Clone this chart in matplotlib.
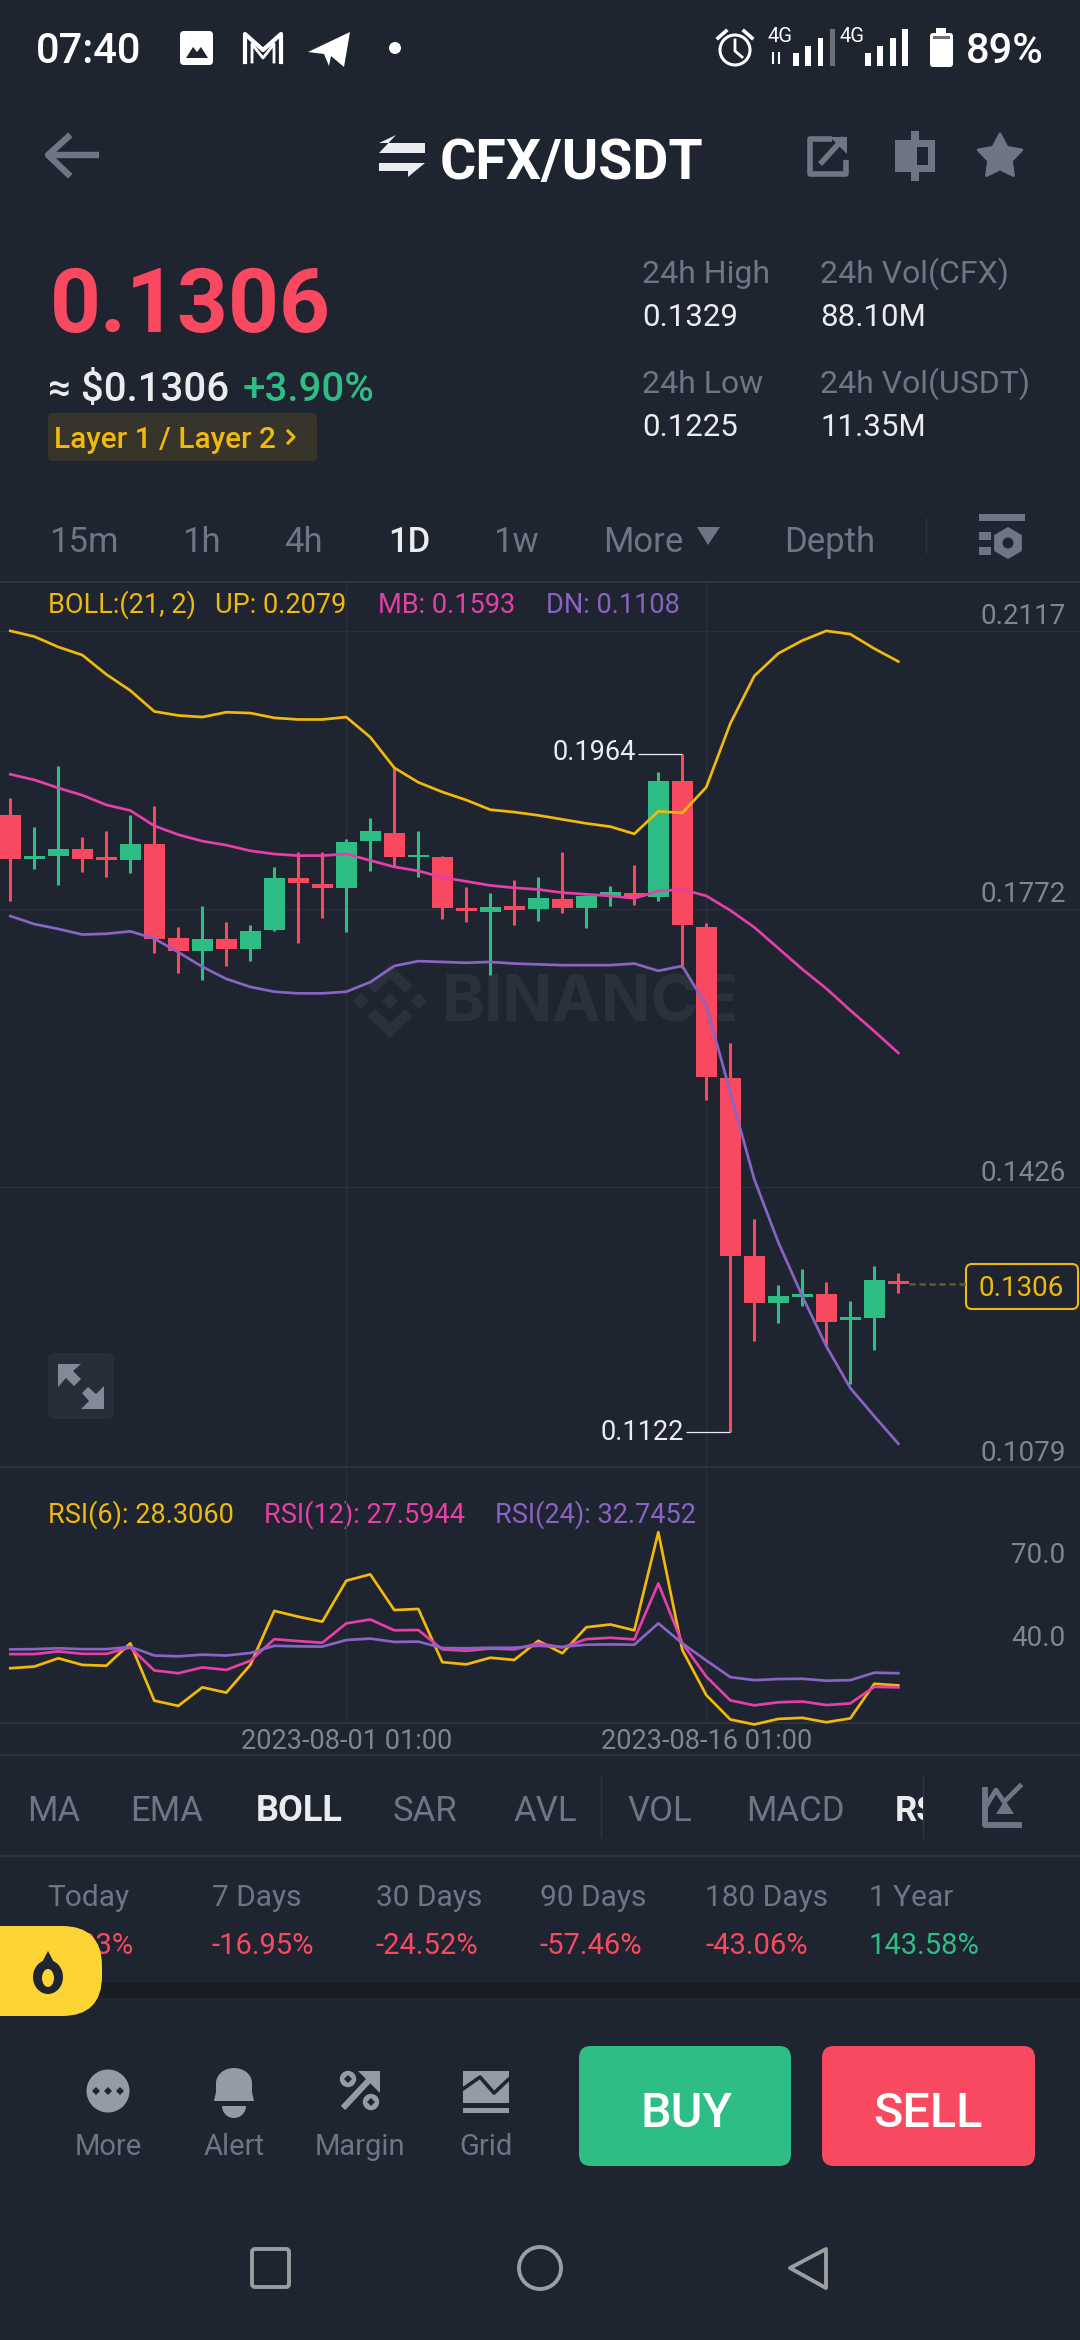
import numpy as np
import matplotlib
matplotlib.use('Agg')
import matplotlib.pyplot as plt
from matplotlib.patches import FancyBboxPatch, Rectangle, Circle, Polygon, Ellipse, Wedge

plt.rcParams['font.family'] = ['Roboto', 'DejaVu Sans']

# candles, oldest first
opens = [.1888, .1834, .1837, .1846, .1836, .1833, .1852, .1736, .1719, .1735, .1722, .1746, .1810,
         .1803, .1798, .1856, .1866, .1836, .1836, .1773, .1768, .1775, .1772, .1784, .1773, .1788,
         .1792, .1787, .1931, .1750, .1562, .1341, .1282, .1290, .1294, .1261, .1264, .1310]
highs = [.1910, .1874, .1949, .1861, .1868, .1888, .1899, .1750, .1775, .1755, .1752, .1824, .1843,
         .1842, .1859, .1885, .1947, .1869, .1838, .1799, .1792, .1808, .1811, .1843, .1789, .1800,
         .1826, .1942, .1964, .1754, .1605, .1387, .1305, .1325, .1309, .1285, .1328, .1320]
lows = [.1782, .1822, .1801, .1818, .1811, .1817, .1717, .1692, .1683, .1701, .1707, .1744, .1729,
        .1761, .1743, .1819, .1824, .1812, .1759, .1755, .1690, .1752, .1757, .1767, .1748, .1775,
        .1777, .1782, .1698, .1534, .1122, .1235, .1258, .1279, .1229, .1182, .1224, .1295]
closes = [.1834, .1838, .1846, .1834, .1832, .1853, .1735, .1719, .1735, .1722, .1745, .1810, .1804,
          .1798, .1855, .1868, .1836, .1839, .1773, .1769, .1774, .1771, .1785, .1773, .1788, .1793,
          .1787, .1931, .1752, .1563, .1341, .1282, .1291, .1294, .1259, .1265, .1311, .1306]

boll_up = [.2117, .2110, .2097, .2087, .2063, .2043, .2017, .2012, .2010, .2016, .2015, .2009, .2007,
           .2007, .2010, .1985, .1947, .1929, .1917, .1907, .1895, .1892, .1888, .1883, .1878, .1874,
           .1865, .1893, .1891, .1923, .2002, .2061, .2089, .2105, .2117, .2113, .2095, .2079]
boll_mb = [.1939, .1932, .1922, .1913, .1901, .1894, .1875, .1864, .1856, .1851, .1844, .1840, .1838,
           .1838, .1840, .1832, .1824, .1819, .1811, .1806, .1801, .1798, .1796, .1792, .1790, .1788,
           .1785, .1794, .1796, .1788, .1770, .1749, .1723, .1697, .1673, .1646, .1620, .1593]
boll_dn = [.1763, .1753, .1747, .1740, .1741, .1744, .1735, .1718, .1700, .1685, .1675, .1669, .1667,
           .1667, .1669, .1681, .1701, .1707, .1706, .1705, .1706, .1704, .1703, .1702, .1702, .1702,
           .1704, .1695, .1701, .1652, .1544, .1436, .1358, .1291, .1229, .1177, .1142, .1108]

rsi6 = [34.5, 35.1, 38.1, 35.7, 35.4, 43.5, 22.8, 20.9, 27.6, 25.7, 35.7, 55.2, 53.1, 51.3, 66.1, 68.4,
        55.5, 55.9, 36.7, 35.9, 38.3, 37.5, 44.4, 39.9, 49.3, 50.3, 48.2, 83.6, 41.1, 24.8, 16.0, 14.2,
        16.2, 16.6, 15.0, 16.4, 28.9, 28.3]
rsi12 = [39.6, 39.6, 40.6, 39.7, 39.7, 42.0, 33.7, 32.7, 34.8, 33.9, 37.2, 45.0, 44.3, 43.7, 50.7, 52.1,
         48.2, 48.3, 41.3, 40.8, 41.6, 41.3, 43.5, 42.0, 45.0, 45.5, 44.9, 65.1, 43.5, 31.5, 22.9, 21.1,
         22.2, 22.5, 21.2, 21.8, 27.8, 27.6]
rsi24 = [41.3, 41.4, 41.7, 41.4, 41.4, 42.2, 39.1, 38.8, 39.4, 39.1, 40.0, 42.6, 42.4, 42.3, 44.7, 45.2,
         44.0, 44.1, 41.8, 41.7, 41.9, 41.9, 42.6, 42.2, 43.0, 43.1, 43.0, 50.7, 43.5, 37.3, 31.3, 30.2,
         30.6, 30.7, 30.0, 30.2, 32.9, 32.7]

price_ticks = [0.2117, 0.1772, 0.1426, 0.1079]
rsi_ticks = [70.0, 40.0]
date_ticks = [14, 29]
date_labels = ['2023-08-01 01:00', '2023-08-16 01:00']
last_price = 0.1306

BG = '#1f2530'
RED = '#f84960'
GREEN = '#2ebd85'
YELLOW = '#f0b90b'
PINK = '#e63fa8'
PURPLE = '#8a63c4'
GRAY = '#6e7584'
AXGRAY = '#7f8691'
WHITE = '#eaecef'
GRID = '#2a303b'
LINE = '#2e3440'
ICON = '#949aa6'

W, H = 1080, 2340
fig = plt.figure(figsize=(W / 100, H / 100), dpi=100, facecolor=BG)

# whole screen in pixels, for the app chrome around the chart
ui = fig.add_axes([0, 0, 1, 1], zorder=0)
ui.set_xlim(0, W)
ui.set_ylim(H, 0)
ui.axis('off')


def label(x, y, s, size=21, color=GRAY, weight='normal', ha='left'):
    return ui.text(x, y, s, fontsize=size, color=color, fontweight=weight, ha=ha, va='baseline')


def hline(x0, x1, y, color=LINE, lw=1.4):
    ui.plot([x0, x1], [y, y], color=color, lw=lw, solid_capstyle='butt')


def vline(x, y0, y1, color=LINE, lw=1.0):
    ui.plot([x, x], [y0, y1], color=color, lw=lw, solid_capstyle='butt')


def box(x0, y0, x1, y1, color, r=8, **kw):
    ui.add_patch(FancyBboxPatch((x0 + r, y0 + r), x1 - x0 - 2 * r, y1 - y0 - 2 * r,
                                boxstyle=f'round,pad={r},rounding_size={r}', fc=color, ec='none', **kw))


def poly(points, color, **kw):
    ui.add_patch(Polygon(points, fc=color, ec='none', **kw))


def diamond(x, y, r, color):
    poly([(x, y - r), (x + r, y), (x, y + r), (x - r, y)], color)


# status bar
label(36, 63, '07:40', 30, 'white', 'medium')
box(180, 31, 213, 65, 'white', r=4)
poly([(186, 58), (193, 47), (197, 52), (201, 47), (208, 58)], BG)
ui.plot([245, 245, 263, 281, 281], [62, 34, 50, 34, 62], color='white', lw=3)
ui.plot([252, 252, 263, 274, 274], [62, 44, 58, 44, 62], color='white', lw=2)
poly([(308, 52), (350, 32), (344, 67), (331, 56), (329, 66), (324, 54)], 'white')
ui.add_patch(Circle((395, 48), 6, fc='white', ec='none'))
ui.add_patch(Circle((735, 50), 15, fc='none', ec='white', lw=2.2))
ui.plot([735, 735, 742], [40, 51, 57], color='white', lw=2)
ui.plot([718, 726], [38, 31], color='white', lw=2.6)
ui.plot([744, 752], [31, 38], color='white', lw=2.6)
label(768, 42, '4G', 14.5, 'white')
label(840, 42, '4G', 14.5, 'white')
ui.plot([773, 773], [53, 63], color='white', lw=1.5)
ui.plot([779, 779], [53, 63], color='white', lw=1.5)
signal_left = [(796, 53), (808, 46), (820.7, 38), (832.7, 29)]
for x, top in signal_left:
    ui.add_patch(Rectangle((x - 2.7, top), 5.4, 66 - top, fc='white' if x < 830 else '#6d7177', ec='none'))
signal_right = [(868, 53), (880, 46), (893, 38), (905, 29)]
for x, top in signal_right:
    ui.add_patch(Rectangle((x - 2.7, top), 5.4, 66 - top, fc='white', ec='none'))
box(930, 33, 953, 67, 'white', r=3)
ui.add_patch(Rectangle((936, 28), 10, 6, fc='white', ec='none'))
ui.add_patch(Rectangle((933, 36), 17, 3, fc='#6d7177', ec='none'))
label(966, 63, '89%', 30, 'white', 'medium')

# title row
ui.plot([99, 50], [155, 155], color=GRAY, lw=4.6, solid_capstyle='butt')
ui.plot([68, 48, 68], [137, 155, 174], color=GRAY, lw=4.6)
poly([(379, 143), (425, 143), (425, 153), (379, 153), (396, 135)], WHITE)
poly([(379, 163), (425, 163), (408, 177), (408, 171), (379, 171)], WHITE)
label(440, 179, 'CFX/USDT', 40, 'white', 'bold')
ui.plot([832, 810, 810, 846, 846], [139, 139, 174, 174, 160], color=GRAY, lw=4, solid_capstyle='butt')
ui.plot([822, 842], [162, 140], color=GRAY, lw=4)
poly([(830, 137), (847, 137), (847, 154)], GRAY)
ui.add_patch(Rectangle((895, 140), 40, 32, fc=GRAY, ec='none'))
ui.add_patch(Rectangle((911, 131), 8, 50, fc=GRAY, ec='none'))
ui.add_patch(Rectangle((917, 147), 11, 18, fc=BG, ec='none'))
star_a = np.deg2rad(np.arange(5) * 72 - 90)
star_b = star_a + np.deg2rad(36)
star = []
for a, b in zip(star_a, star_b):
    star += [(1000 + 23 * np.cos(a), 157 + 23 * np.sin(a)), (1000 + 12 * np.cos(b), 157 + 12 * np.sin(b))]
ui.add_patch(Polygon(star, fc=GRAY, ec=GRAY, lw=2, joinstyle='round'))

# price block
label(50, 332, '0.1306', 64, RED, 'bold')
label(48, 401, '≈ $0.1306', 29, WHITE, 'medium')
label(243, 401, '+3.90%', 29, GREEN, 'medium')
box(48, 413, 317, 461, '#37342c', r=5)
label(54, 448, 'Layer 1 / Layer 2', 21.5, YELLOW, 'medium')
ui.plot([288, 294, 288], [431, 437, 443], color=YELLOW, lw=2.2)

label(642, 283, '24h High', 23)
label(820, 283, '24h Vol(CFX)', 23)
label(642, 326, '0.1329', 22.5, WHITE)
label(820, 326, '88.10M', 22.5, WHITE)
label(642, 393, '24h Low', 23)
label(820, 393, '24h Vol(USDT)', 23)
label(642, 436, '0.1225', 22.5, WHITE)
label(820, 436, '11.35M', 22.5, WHITE)

# interval tabs
intervals = [(49, '15m'), (182, '1h'), (284, '4h'), (493, '1w'), (603, 'More'), (784, 'Depth')]
for x, s in intervals:
    label(x, 552, s, 25)
label(388, 552, '1D', 25, WHITE, 'medium')
poly([(697, 527), (720, 527), (708, 545)], GRAY)
vline(926, 518, 553)
ui.add_patch(Rectangle((979, 514), 46, 7, fc=GRAY, ec='none'))
ui.add_patch(Rectangle((979, 532), 12, 8, fc=GRAY, ec='none'))
ui.add_patch(Rectangle((979, 547), 12, 8, fc=GRAY, ec='none'))
hex_a = np.deg2rad(np.arange(6) * 60 + 30)
poly([(1008 + 16 * np.cos(a), 543 + 16 * np.sin(a)) for a in hex_a], GRAY)
ui.add_patch(Circle((1008, 543), 5.5, fc=BG, ec='none'))
hline(0, W, 582)

# watermark sits under the candles
MARK = '#2b313b'
diamond(390, 1001, 8, MARK)
diamond(361, 1001, 8, MARK)
diamond(419, 1001, 8, MARK)
poly([(390, 964), (413, 986), (405, 993), (390, 979), (375, 993), (367, 986)], MARK)
poly([(390, 1038), (413, 1016), (405, 1009), (390, 1023), (375, 1009), (367, 1016)], MARK)
ui.text(442, 1022, 'BINANCE', fontsize=47, color=MARK, fontweight='bold', va='baseline',
        family=['Inter', 'DejaVu Sans'])

# legends
for x, s, c in [(48, 'BOLL:(21, 2)', YELLOW), (215, 'UP: 0.2079', YELLOW), (378, 'MB: 0.1593', PINK),
                (546, 'DN: 0.1108', PURPLE)]:
    label(x, 613, s, 19.5, c)
for x, s, c in [(48, 'RSI(6): 28.3060', YELLOW), (264, 'RSI(12): 27.5944', PINK), (495, 'RSI(24): 32.7452', PURPLE)]:
    label(x, 1523, s, 19.5, c)

# expand button
box(48, 1353, 114, 1419, '#282e39', r=6)
poly([(58, 1364), (81, 1364), (73, 1371), (81, 1379), (74, 1386), (66, 1378), (58, 1387)], '#828a98')
poly([(104, 1386), (104, 1409), (81, 1409), (89, 1401), (82, 1393), (88, 1387), (96, 1394)], '#828a98')

# chart panes, x runs in candle numbers so a candle is 24 px wide
xs = np.arange(len(closes))
x_lim = (-10.3 / 24, (W - 10.3) / 24)
px_per_price = 277.9 / 0.0345


def pane(y_top, y_bottom):
    ax = fig.add_axes([0, 1 - y_bottom / H, 1, (y_bottom - y_top) / H], zorder=1)
    ax.patch.set_alpha(0)
    ax.set_xlim(*x_lim)
    for s in ax.spines.values():
        s.set_visible(False)
    ax.set_xticks(date_ticks)
    ax.grid(True, color=GRID, lw=0.9)
    ax.set_axisbelow(True)
    ax.tick_params(length=0)
    ax.set_yticklabels([])
    return ax


ax = pane(582, 1467)
ax.set_ylim(0.1079, 0.1079 + 885 / px_per_price)
ax.set_yticks(price_ticks)
ax.set_yticklabels([])
ax.set_xticklabels([])

colors = [GREEN if c >= o else RED for o, c in zip(opens, closes)]
ax.vlines(xs, lows, highs, colors=colors, lw=2.2, zorder=2)
ax.bar(xs, np.abs(np.array(closes) - np.array(opens)), bottom=np.minimum(opens, closes), width=0.86,
       color=colors, zorder=2)
ax.plot(xs, boll_up, color=YELLOW, lw=1.95, zorder=3)
ax.plot(xs, boll_mb, color=PINK, lw=1.95, zorder=3)
ax.plot(xs, boll_dn, color=PURPLE, lw=1.95, zorder=3)

for tick in price_ticks:
    ax.annotate(f'{tick:.4f}', xy=(1, tick), xycoords=('axes fraction', 'data'), xytext=(-10.4, 4.6),
                textcoords='offset points', ha='right', va='baseline', fontsize=20, color=AXGRAY)

# high and low callouts
i_hi, i_lo = int(np.argmax(highs)), int(np.argmin(lows))
ax.hlines(highs[i_hi], i_hi - 1.85, i_hi, color=WHITE, lw=0.9, zorder=4)
ax.annotate(f'{highs[i_hi]:.4f}', xy=(i_hi - 1.85, highs[i_hi]), xytext=(-1.5, -4.3), textcoords='offset points',
            ha='right', va='baseline', fontsize=19.5, color=WHITE)
ax.hlines(lows[i_lo], i_lo - 1.85, i_lo, color=WHITE, lw=0.9, zorder=4)
ax.annotate(f'{lows[i_lo]:.4f}', xy=(i_lo - 1.85, lows[i_lo]), xytext=(-1.5, -5.3), textcoords='offset points',
            ha='right', va='baseline', fontsize=19.5, color=WHITE)

# last price tag
ax.hlines(last_price, xs[-1] + 0.43, (966 - 10.3) / 24, color='#6b5a1f', lw=1.8, linestyles=(0, (2.5, 1.5)), zorder=2)
tag = FancyBboxPatch((972, 1270), 100, 33, boxstyle='round,pad=6,rounding_size=6', fc=BG, ec=YELLOW, lw=1.5)
ui.add_patch(tag)
tag.set_zorder(5)
ui.text(1064, 1296, f'{last_price:.4f}', fontsize=20, color=YELLOW, ha='right', va='baseline', zorder=6)

rsi_ax = pane(1467, 1723)
rsi_ax.set_ylim(40 - 70 / 2.77, 40 + 186 / 2.77)
rsi_ax.set_yticks([])
rsi_ax.set_xticklabels(date_labels, fontsize=19.5, color=AXGRAY)
rsi_ax.tick_params(axis='x', pad=3.8)
rsi_ax.plot(xs, rsi6, color=YELLOW, lw=1.95, clip_on=False, zorder=3)
rsi_ax.plot(xs, rsi12, color=PINK, lw=1.95, zorder=3)
rsi_ax.plot(xs, rsi24, color=PURPLE, lw=1.95, zorder=3)
for tick in rsi_ticks:
    rsi_ax.annotate(f'{tick:.1f}', xy=(1, tick), xycoords=('axes fraction', 'data'), xytext=(-10.4, 5.0),
                    textcoords='offset points', ha='right', va='baseline', fontsize=20, color=AXGRAY)

hline(0, W, 1467)
hline(0, W, 1723)
hline(0, W, 1755)

# indicator tabs
indicators = [(27, 'MA'), (130, 'EMA'), (393, 'SAR'), (513, 'AVL'), (628, 'VOL'), (746, 'MACD')]
for x, s in indicators:
    label(x, 1821, s, 25)
label(256, 1821, 'BOLL', 26, WHITE, 'bold')
rsi_tab = label(895, 1821, 'RSI', 25, WHITE, 'bold')
rsi_tab.set_clip_on(True)
rsi_tab.set_clip_path(Rectangle((880, 1780), 43, 60, transform=ui.transData))
vline(601, 1775, 1838)
vline(923, 1775, 1838)
ui.plot([985, 985, 1022], [1787, 1825, 1825], color=GRAY, lw=4.2, solid_capstyle='butt')
ui.plot([985, 996, 1004, 1020], [1808, 1790, 1802, 1786], color=GRAY, lw=3.4)
poly([(1005, 1800), (1014, 1814), (996, 1814)], GRAY)
hline(0, W, 1856)

# period changes
periods = ['Today', '7 Days', '30 Days', '90 Days', '180 Days', '1 Year']
period_changes = ['-0.23%', '-16.95%', '-24.52%', '-57.46%', '-43.06%', '143.58%']
period_x = [47, 212, 376, 540, 705, 869]
for x, p, v in zip(period_x, periods, period_changes):
    label(x, 1906, p, 21.5)
    label(x, 1954, v, 21, GREEN if not v.startswith('-') else RED)
ui.add_patch(Rectangle((0, 1983), W, 14.5, fc='#181c23', ec='none'))

# floating pill
ui.add_patch(FancyBboxPatch((-60, 1966), 122, 10, boxstyle='round,pad=40,rounding_size=40', fc='#fcd535',
                            ec='none', zorder=3))
ui.add_patch(Ellipse((48, 1977), 30, 34, fc=BG, ec='none', zorder=4))
poly([(48, 1951), (38, 1970), (58, 1970)], BG, zorder=4)
ui.add_patch(Ellipse((48, 1978), 12, 18, fc='#fcd535', ec='none', zorder=5))

# bottom bar
ui.add_patch(Circle((108, 2091), 21.5, fc=ICON, ec='none'))
for dx in (-12, 0, 12):
    diamond(108 + dx, 2091, 4, BG)
ui.add_patch(Ellipse((234, 2083), 36, 30, fc=ICON, ec='none'))
ui.add_patch(Rectangle((216, 2083), 36, 12, fc=ICON, ec='none'))
poly([(216, 2092), (252, 2092), (254, 2101), (214, 2101)], ICON)
ui.add_patch(Wedge((234, 2106), 12, 0, 180, fc=ICON, ec='none'))
ui.plot([343, 373], [2108, 2076], color=ICON, lw=4.4, solid_capstyle='butt')
poly([(358, 2071), (380, 2071), (380, 2093)], ICON)
for cx, cy in [(348, 2079), (371, 2102)]:
    ui.add_patch(Circle((cx, cy), 8.2, fc=ICON, ec='none'))
    diamond(cx, cy, 4, BG)
ui.add_patch(Rectangle((463, 2071), 46, 32, fc=ICON, ec='none'))
ui.plot([463, 480, 494, 509], [2089, 2077, 2093, 2079], color=BG, lw=2.6)
diamond(480, 2077, 3.2, ICON)
diamond(494, 2093, 3.2, ICON)
ui.add_patch(Rectangle((463, 2108), 46, 5, fc=ICON, ec='none'))
for x, s in [(108, 'More'), (234, 'Alert'), (360, 'Margin'), (486, 'Grid')]:
    label(x, 2155, s, 21, ha='center')

box(579, 2046, 791, 2166, GREEN, r=12)
box(822, 2046, 1035, 2166, RED, r=12)
label(686, 2127, 'BUY', 35, 'white', 'medium', ha='center')
label(928, 2127, 'SELL', 35, 'white', 'medium', ha='center')

# android nav keys
NAV = '#9b9da1'
ui.add_patch(FancyBboxPatch((254, 2251), 33, 34, boxstyle='round,pad=2,rounding_size=3', fc='none', ec=NAV, lw=2.8))
ui.add_patch(Circle((540, 2268), 21, fc='none', ec=NAV, lw=2.8))
ui.add_patch(Polygon([(826, 2249), (826, 2288), (790, 2268)], fc='none', ec=NAV, lw=2.8, joinstyle='round'))

fig.savefig('out.png', dpi=100, facecolor=BG)
